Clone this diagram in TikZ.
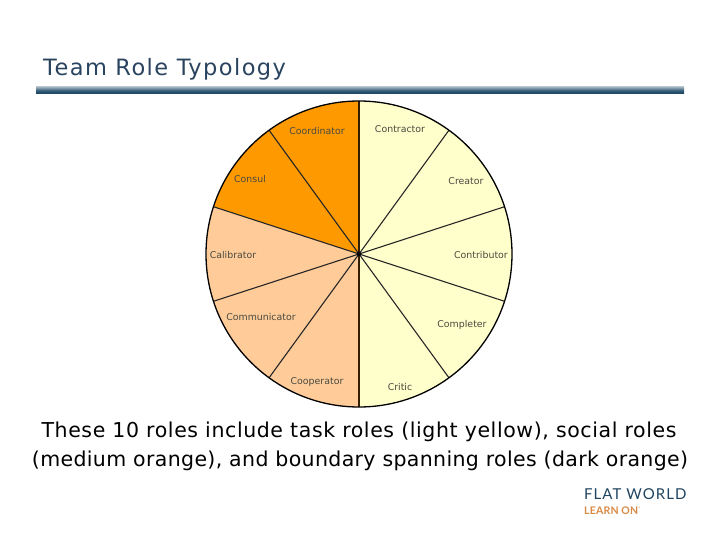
\documentclass[tikz,border=0pt]{standalone}
\usepackage{fontspec}
\setmainfont{DejaVu Sans}
\newfontfamily\logofont{Lato}[LetterSpace=7]
\newfontfamily\logofontb{Lato Bold}[LetterSpace=2]
\newfontfamily\titlefont{DejaVu Sans}[LetterSpace=6.3]
\newfontfamily\capfonta{DejaVu Sans}[LetterSpace=2.9]
\newfontfamily\capfontb{DejaVu Sans}[LetterSpace=1.75]
\usetikzlibrary{calc}
\definecolor{titleblue}{HTML}{2A4460}
\definecolor{barlight}{HTML}{9DB0BE}
\definecolor{bardark}{HTML}{12405F}
\definecolor{wedgeyellow}{HTML}{FFFFCC}
\definecolor{wedgemedium}{HTML}{FFCC99}
\definecolor{wedgedark}{HTML}{FF9900}
\definecolor{labelgrey}{HTML}{4A4A40}
\definecolor{logoblue}{HTML}{1F4460}
\definecolor{logoorange}{HTML}{D98A45}
\tikzset{
  rolelabel/.style={font=\fontsize{9.4}{11}\selectfont, text=labelgrey, inner sep=0pt, anchor=center},
  spoke/.style={draw=black!85, line width=1.1pt},
  capline/.style={text=black, inner sep=0pt, anchor=base},
}
\begin{document}
\begin{tikzpicture}[x=1pt,y=-1pt]
\useasboundingbox[fill=white] (0,0) rectangle (720,540);
\node[font=\titlefont\fontsize{22.5}{26}\selectfont, text=titleblue, inner sep=0pt, anchor=base west] (title) at (43,76) {Team Role Typology};
\shade[top color=barlight, bottom color=bardark, middle color=bardark!75!barlight] (36,87) rectangle (684,94);
\coordinate (c) at (359,254);
\def\rr{153}
\foreach \a/\n in {90/a,54/b,18/d,-18/e,-54/f,-90/g,-126/h,-162/i,162/j,126/k}
  \coordinate (rim\n) at ($(c)+(\a:\rr pt)$);
\fill[wedgeyellow] (c) -- (rima) arc[start angle=90,delta angle=-180,radius=\rr pt] -- cycle;
\fill[wedgemedium] (c) -- (rimg) arc[start angle=-90,delta angle=-108,radius=\rr pt] -- cycle;
\fill[wedgedark] (c) -- (rimj) arc[start angle=162,delta angle=-72,radius=\rr pt] -- cycle;
\foreach \n in {b,d,e,f,h,i,j,k} \draw[spoke] (c) -- (rim\n);
\draw[spoke, line width=1.7pt, draw=black!80!wedgedark] (rima) -- (rimg);
\draw[black, line width=1.3pt] (c) circle[radius=\rr pt];
\fill[black] (c) circle[radius=2.2pt];
\node[rolelabel] (contractor) at (400,129) {Contractor};
\node[rolelabel] (creator) at (466,181) {Creator};
\node[rolelabel] (contributor) at (481,255) {Contributor};
\node[rolelabel] (completer) at (462,325) {Completer};
\node[rolelabel] (critic) at (400,387) {Critic};
\node[rolelabel] (cooperator) at (317,382) {Cooperator};
\node[rolelabel] (communicator) at (261,317) {Communicator};
\node[rolelabel] (calibrator) at (233,255) {Calibrator};
\node[rolelabel] (consul) at (250,179) {Consul};
\node[rolelabel] (coordinator) at (317,131) {Coordinator};
\node[capline, font=\capfonta\fontsize{20.5}{24}\selectfont] (line1) at (359,437) {These 10 roles include task roles (light yellow), social roles};
\node[capline, font=\capfontb\fontsize{20.5}{24}\selectfont] (line2) at (360,466) {(medium orange), and boundary spanning roles (dark orange)};
\node[font=\logofont\fontsize{15}{17}\selectfont, text=logoblue, inner sep=0pt, anchor=base west] (logo1) at (584,499) {FLAT WORLD};
\node[font=\logofontb\fontsize{10.5}{12}\selectfont, text=logoorange, inner sep=0pt, anchor=base west] (logo2) at (584,514) {LEARN ON\raisebox{4.5pt}{\fontsize{3}{3}\selectfont ™}};
\end{tikzpicture}
\end{document}
